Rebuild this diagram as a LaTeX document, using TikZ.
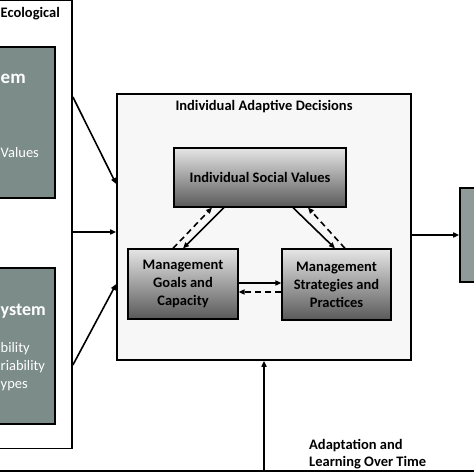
\documentclass[tikz,border=0pt]{standalone}
\usepackage{fontspec}
\setmainfont{Carlito}
\usetikzlibrary{arrows.meta,calc}
\definecolor{ecogray}{RGB}{124,140,137}
\definecolor{outgray}{RGB}{143,155,152}
\tikzset{
	flow/.style={line width=1.6pt,-{Triangle[length=6pt,width=5pt]}},
	back/.style={flow,dash pattern=on 6pt off 4pt},
	graybox/.style={draw,line width=1.6pt,fill=ecogray,text=white},
	stepbox/.style={draw,line width=1.2pt,top color=black!10,bottom color=black!65,
		font=\bfseries\fontsize{14.5}{18}\selectfont,align=center,inner sep=0pt},
	lbl/.style={font=\bfseries\fontsize{14.5}{17}\selectfont,inner sep=0pt}
}
\begin{document}
\begin{tikzpicture}[x=1pt,y=1pt]
	\useasboundingbox (0,0) rectangle (474,474);
	% outer left box and its two systems
	\node[draw,line width=1.8pt,minimum width=84pt,minimum height=448pt] (eco) at (30,249.5) {};
	\node[lbl,anchor=west] (ecot) at (0.5,460) {Ecological};
	\node[graybox,minimum width=67pt,minimum height=151pt] (sys1) at (21.5,351.5) {};
	\node[graybox,minimum width=67pt,minimum height=156pt] (sys2) at (21.5,128) {};
	\node[anchor=west,inner sep=0pt,text=white,font=\bfseries\fontsize{19}{22}\selectfont] (sys1a) at (0.5,395) {em};
	\node[anchor=west,inner sep=0pt,text=white,font=\fontsize{14.5}{18}\selectfont] (sys1b) at (0.5,321) {Values};
	\node[anchor=west,inner sep=0pt,text=white,font=\bfseries\fontsize{18}{22}\selectfont] (sys2a) at (0.5,163) {ystem};
	\node[anchor=west,inner sep=0pt,text=white,font=\fontsize{14.5}{18}\selectfont,align=left] (sys2b) at (0.5,107)
		{bility\\riability\\ypes};
	% individual decisions
	\node[draw,line width=1.6pt,fill=black!3,minimum width=294pt,minimum height=266pt] (dec) at (264,247) {};
	\node[lbl] (dect) at (264,367) {Individual Adaptive Decisions};
	\node[stepbox,minimum width=172pt,minimum height=59pt] (soc) at (260,296.5) {Individual Social Values};
	\node[stepbox,minimum width=110pt,minimum height=70pt] (goals) at (183,190) {Management\\Goals and\\Capacity};
	\node[stepbox,minimum width=109pt,minimum height=71pt] (strat) at (336.5,189.5) {Management\\Strategies and\\Practices};
	\node[draw,line width=1.6pt,fill=outgray,minimum width=32pt,minimum height=94pt] (out) at (476,239) {};
	% connectors
	\draw[flow] ([yshift=127.5pt]eco.east) -- ([yshift=43pt]dec.west);
	\draw[flow] ([yshift=-7.5pt]eco.east) -- ([yshift=-5pt]dec.west);
	\draw[flow] ([yshift=-140.5pt]eco.east) -- ([yshift=-57pt]dec.west);
	\draw[flow] ([yshift=-8pt]dec.east) -- (out.west);
	\draw[flow] ([xshift=-36pt]soc.south) -- (goals.north);
	\draw[back] ([xshift=-10pt]goals.north) -- ([xshift=-48pt]soc.south);
	\draw[flow] ([xshift=33pt]soc.south) -- ([xshift=-1.5pt]strat.north);
	\draw[back] ([xshift=8.5pt]strat.north) -- ([xshift=48pt]soc.south);
	\draw[flow] ([yshift=1pt]goals.east) -- ([yshift=1.5pt]strat.west);
	\draw[back] ([yshift=-7.5pt]strat.west) -- ([yshift=-8pt]goals.east);
	% learning loop
	\coordinate (baseL) at (-5,3);
	\coordinate (baseR) at (480,3);
	\draw[line width=1.8pt] (baseL) -- (baseR);
	\draw[flow] (dec.south |- baseL) -- (dec.south);
	\node[lbl,anchor=west,align=left] (learn) at (309,19.5) {Adaptation and\\Learning Over Time};
\end{tikzpicture}
\end{document}
